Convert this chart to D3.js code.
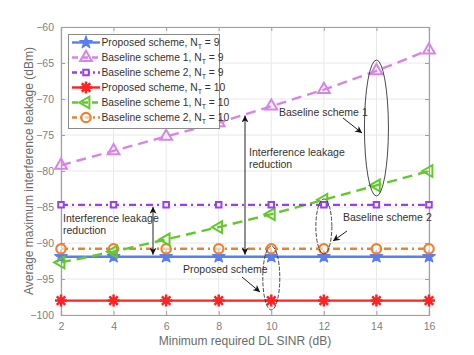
<!DOCTYPE html>
<html><head><meta charset="utf-8">
<script src="https://cdn.jsdelivr.net/npm/d3@7"></script>
<style>
html,body{margin:0;padding:0;background:#fff;}
text{font-family:"Liberation Sans",Arial,sans-serif;}
</style></head>
<body><svg id="chart" width="474" height="355"></svg>
<script>
const xValues = [2, 4, 6, 8, 10, 12, 14, 16];
const proposedN9 = [-91.9, -91.9, -91.9, -91.9, -91.9, -91.9, -91.9, -91.9];
const baseline1N9 = [-79.2, -77.2, -75.2, -73.3, -71.0, -68.7, -66.1, -63.2];
const baseline2N9 = [-84.7, -84.7, -84.7, -84.7, -84.7, -84.7, -84.7, -84.7];
const proposedN10 = [-98.0, -98.0, -98.0, -98.0, -98.0, -98.0, -98.0, -98.0];
const baseline1N10 = [-92.7, -91.2, -89.5, -87.8, -86.0, -84.0, -82.0, -80.0];
const baseline2N10 = [-90.8, -90.8, -90.8, -90.8, -90.8, -90.8, -90.8, -90.8];
const xTicks = [2, 4, 6, 8, 10, 12, 14, 16];
const yTicks = [-100, -95, -90, -85, -80, -75, -70, -65, -60];
const seriesNames = ["Proposed scheme, N", "Baseline scheme 1, N", "Baseline scheme 2, N", "Proposed scheme, N", "Baseline scheme 1, N", "Baseline scheme 2, N"];
const seriesNT = ["9", "9", "9", "10", "10", "10"];

const series = [
  {values: proposedN9, color: "#5a7ef0", dash: null, marker: "star"},
  {values: baseline1N9, color: "#d982ea", dash: "10,6", marker: "triUp"},
  {values: baseline2N9, color: "#9b3df0", dash: "7,4,2,4", marker: "square"},
  {values: proposedN10, color: "#ff2222", dash: null, marker: "asterisk"},
  {values: baseline1N10, color: "#62c92a", dash: "10,6", marker: "triLeft"},
  {values: baseline2N10, color: "#f0802e", dash: "7,4,2,4", marker: "circle"}
];

const svg = d3.select("#chart");
const L = 61, R = 429, T = 27, B = 315;
const x = d3.scaleLinear().domain([2, 16]).range([L, R]);
const y = d3.scaleLinear().domain([-100, -60]).range([B, T]);
const axisColor = "#a0a0a0", tickText = "#808080";

// grid
const g = svg.append("g");
g.selectAll(".gx").data(xTicks).enter().append("line")
  .attr("x1", d => x(d)).attr("x2", d => x(d)).attr("y1", T).attr("y2", B)
  .attr("stroke", "#e8e8e8").attr("stroke-width", 1);
g.selectAll(".gy").data(yTicks).enter().append("line")
  .attr("y1", d => y(d)).attr("y2", d => y(d)).attr("x1", L).attr("x2", R)
  .attr("stroke", "#e8e8e8").attr("stroke-width", 1);

// axes
const xAxis = d3.axisBottom(x).tickValues(xTicks).tickSize(-4).tickPadding(8);
const yAxis = d3.axisLeft(y).tickValues(yTicks).tickSize(-4).tickPadding(7);
const xa = svg.append("g").attr("transform", `translate(0,${B})`).call(xAxis);
const ya = svg.append("g").attr("transform", `translate(${L},0)`).call(yAxis);
const xt = svg.append("g").attr("transform", `translate(0,${T})`).call(d3.axisTop(x).tickValues(xTicks).tickSize(-4).tickFormat(""));
const yr = svg.append("g").attr("transform", `translate(${R},0)`).call(d3.axisRight(y).tickValues(yTicks).tickSize(-4).tickFormat(""));
[xa, ya, xt, yr].forEach(a => {
  a.select(".domain").attr("stroke", axisColor).attr("stroke-width", 1.2);
  a.selectAll(".tick line").attr("stroke", axisColor);
  a.selectAll(".tick text").attr("fill", tickText).attr("font-size", 10.5)
    .style("font-family", "'Liberation Sans', Arial, sans-serif");
});

// axis labels
svg.append("text").attr("x", (L + R) / 2).attr("y", 345).attr("text-anchor", "middle")
  .attr("font-size", 12).attr("fill", "#6a6a6a").text("Minimum required DL SINR (dB)");
svg.append("text").attr("transform", `translate(33,${(T + B) / 2}) rotate(-90)`)
  .attr("text-anchor", "middle").attr("font-size", 12).attr("fill", "#6a6a6a")
  .text("Average maximum interference leakage (dBm)");

function drawMarker(sel, type, color) {
  if (type === "star") {
    sel.append("path").attr("d", d3.symbol(d3.symbolStar, 48)())
      .attr("fill", color).attr("stroke", color).attr("stroke-width", 1.2).attr("stroke-linejoin", "round");
  } else if (type === "triUp") {
    sel.append("path").attr("d", d3.symbol(d3.symbolTriangle, 60)())
      .attr("fill", "none").attr("stroke", color).attr("stroke-width", 2);
  } else if (type === "triLeft") {
    sel.append("path").attr("d", d3.symbol(d3.symbolTriangle, 60)()).attr("transform", "rotate(-90)")
      .attr("fill", "none").attr("stroke", color).attr("stroke-width", 2);
  } else if (type === "square") {
    sel.append("path").attr("d", d3.symbol(d3.symbolSquare, 30)())
      .attr("fill", "#fff").attr("stroke", color).attr("stroke-width", 2);
  } else if (type === "circle") {
    sel.append("path").attr("d", d3.symbol(d3.symbolCircle, 70)())
      .attr("fill", "#fff").attr("fill-opacity", 0.6).attr("stroke", color).attr("stroke-width", 2.2);
  } else if (type === "asterisk") {
    const r = 6, s = r * Math.SQRT1_2;
    sel.append("path").attr("d", `M${-r},0L${r},0M0,${-r}L0,${r}M${-s},${-s}L${s},${s}M${-s},${s}L${s},${-s}`)
      .attr("fill", "none").attr("stroke", color).attr("stroke-width", 2.5);
  }
}

const line = d3.line().x((d, i) => x(xValues[i])).y(d => y(d));
const drawOrder = [3, 0, 5, 4, 2, 1];
drawOrder.forEach(k => {
  const s = series[k];
  svg.append("path").datum(s.values).attr("d", line).attr("fill", "none")
    .attr("stroke", s.color).attr("stroke-width", 2.4)
    .attr("stroke-dasharray", s.dash);
  s.values.forEach((v, i) => {
    const m = svg.append("g").attr("transform", `translate(${x(xValues[i])},${y(v)})`);
    drawMarker(m, s.marker, s.color);
  });
});

// annotations
const ann = svg.append("g");
const defs = svg.append("defs");
defs.append("marker").attr("id", "ah").attr("viewBox", "0 0 10 10").attr("refX", 10).attr("refY", 5)
  .attr("markerWidth", 7).attr("markerHeight", 7).attr("orient", "auto-start-reverse")
  .append("path").attr("d", "M0,0L10,5L0,10L3,5Z").attr("fill", "#111");

function ellipse(cx, cy, rx, ry, dash) {
  ann.append("ellipse").attr("cx", cx).attr("cy", cy).attr("rx", rx).attr("ry", ry)
    .attr("fill", "none").attr("stroke", "#333").attr("stroke-width", 0.9)
    .attr("stroke-dasharray", dash);
}
ellipse(x(14), 128, 12, 68, null);
ellipse(x(12), 226.5, 8, 27.5, "4,1.5");
ellipse(x(10), 278, 8.5, 32, "4,1.5");

function arrow(x1, y1, x2, y2, both) {
  const l = ann.append("line").attr("x1", x1).attr("y1", y1).attr("x2", x2).attr("y2", y2)
    .attr("stroke", "#222").attr("stroke-width", 1).attr("marker-end", "url(#ah)");
  if (both) l.attr("marker-start", "url(#ah)");
}
arrow(343, 118, 362, 133, false);
arrow(347, 231, 333, 241, false);
arrow(242, 277, 260, 292, false);
arrow(x(9), y(-72.15) + 1, x(9), y(-91.9) - 2, true);
arrow(x(5.5), y(-84.7) + 2, x(5.5), y(-91.9) - 2, true);

function label(xp, yp, lines) {
  const t = ann.append("text").attr("x", xp).attr("y", yp).attr("font-size", 10.5).attr("fill", "#333");
  lines.forEach((s, i) => t.append("tspan").attr("x", xp).attr("dy", i === 0 ? 0 : 12).text(s));
}
label(279, 116, ["Baseline scheme 1"]);
label(343, 221, ["Baseline scheme 2"]);
label(183, 273, ["Proposed scheme"]);
label(249, 156, ["Interference leakage", "reduction"]);
label(63, 222, ["Interference leakage", "reduction"]);

// legend
const lg = svg.append("g");
lg.append("rect").attr("x", 68.5).attr("y", 34.5).attr("width", 151).attr("height", 94)
  .attr("fill", "#fff").attr("stroke", "#8a8a8a").attr("stroke-width", 1);
series.forEach((s, i) => {
  const yy = 42.5 + i * 15;
  lg.append("line").attr("x1", 72).attr("x2", 100).attr("y1", yy).attr("y2", yy)
    .attr("stroke", s.color).attr("stroke-width", 2.4)
    .attr("stroke-dasharray", s.dash ? (s.dash === "10,6" ? "6,4" : "5,3,2,3") : null);
  drawMarker(lg.append("g").attr("transform", `translate(86,${yy})`), s.marker, s.color);
  const t = lg.append("text").attr("x", 101.5).attr("y", yy + 3.5).attr("font-size", 10.3).attr("fill", "#333");
  t.append("tspan").text(seriesNames[i]);
  t.append("tspan").attr("font-size", 7).attr("dy", 3).text("T");
  t.append("tspan").attr("dy", -3).text(" = " + seriesNT[i]);
});
</script></body></html>
